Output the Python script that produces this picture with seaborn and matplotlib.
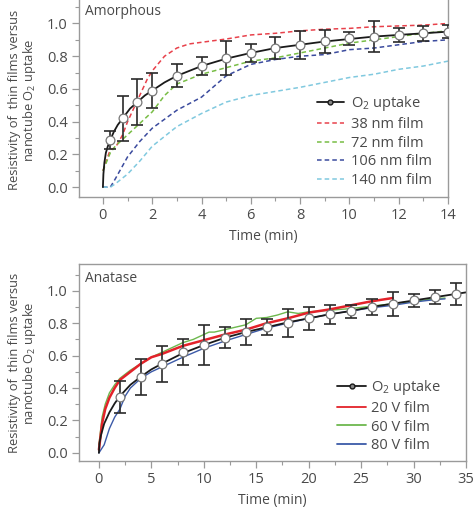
import numpy as np
import pandas as pd
import matplotlib
matplotlib.use("Agg")
import matplotlib.pyplot as plt
import seaborn as sns
from matplotlib.lines import Line2D
from matplotlib.ticker import MultipleLocator

sns.set_theme(style="ticks")
plt.rcParams['font.family'] = ['Open Sans', 'DejaVu Sans']
plt.rcParams['mathtext.fontset'] = 'custom'
plt.rcParams['mathtext.rm'] = 'Open Sans'

# ---------------- Amorphous panel data ----------------
amo_pts_t = [0.3, 0.8, 1.4, 2, 3, 4, 5, 6, 7, 8, 9, 10, 11, 12, 13, 14]
amo_pts_v = [0.29, 0.42, 0.52, 0.59, 0.68, 0.74, 0.79, 0.82, 0.85, 0.87, 0.89, 0.91, 0.92, 0.93, 0.94, 0.95]
amo_pts_e = [0.055, 0.14, 0.14, 0.105, 0.07, 0.055, 0.105, 0.055, 0.065, 0.085, 0.07, 0.04, 0.095, 0.045, 0.045, 0.04]

amo_fit_t = [0, 0.02, 0.06, 0.12, 0.2, 0.3, 0.45, 0.6, 0.8, 1.1, 1.4, 1.7, 2, 2.5, 3, 3.5, 4, 5, 6, 7, 8, 9, 10, 11, 12, 13, 14]
amo_fit_v = [0, 0.08, 0.15, 0.21, 0.25, 0.29, 0.34, 0.38, 0.42, 0.48, 0.52, 0.56, 0.59, 0.64, 0.68, 0.71, 0.74, 0.785, 0.82, 0.85, 0.87, 0.89, 0.905, 0.92, 0.93, 0.94, 0.95]

t38 = [0, 0.3, 0.5, 0.8, 1.0, 1.4, 1.8, 2.0, 2.5, 3.0, 3.5, 4, 5, 6, 7, 8, 9, 10, 11, 12, 13, 14]
v38 = [0.1, 0.23, 0.24, 0.32, 0.4, 0.53, 0.66, 0.71, 0.8, 0.85, 0.875, 0.885, 0.905, 0.93, 0.94, 0.955, 0.965, 0.97, 0.98, 0.985, 0.99, 1.0]

t72 = [0, 0.3, 0.5, 1.0, 1.5, 2, 2.5, 3, 4, 5, 6, 7, 8, 9, 10, 11, 12, 13, 14]
v72 = [0.1, 0.21, 0.25, 0.32, 0.39, 0.46, 0.56, 0.63, 0.69, 0.73, 0.77, 0.79, 0.82, 0.85, 0.88, 0.9, 0.92, 0.94, 0.955]

t106 = [0, 0.3, 0.5, 1.0, 1.5, 2, 3, 4, 5, 6, 7, 8, 9, 10, 11, 12, 13, 14]
v106 = [0, 0.0, 0.05, 0.185, 0.28, 0.36, 0.47, 0.55, 0.68, 0.75, 0.78, 0.8, 0.81, 0.84, 0.85, 0.87, 0.89, 0.9]

t140 = [0, 0.3, 0.5, 1.0, 1.5, 2, 3, 4, 5, 6, 7, 8, 9, 10, 11, 12, 13, 14]
v140 = [0, 0.0, 0.02, 0.08, 0.16, 0.25, 0.37, 0.45, 0.52, 0.56, 0.585, 0.61, 0.64, 0.67, 0.69, 0.72, 0.74, 0.77]

# ---------------- Anatase panel data ----------------
ana_pts_t = [2, 4, 6, 8, 10, 12, 14, 16, 18, 20, 22, 24, 26, 28, 30, 32, 34]
ana_pts_v = [0.345, 0.47, 0.55, 0.62, 0.665, 0.71, 0.745, 0.775, 0.80, 0.83, 0.855, 0.875, 0.90, 0.92, 0.94, 0.96, 0.98]
ana_pts_e = [0.097, 0.11, 0.11, 0.08, 0.125, 0.065, 0.08, 0.05, 0.088, 0.07, 0.058, 0.04, 0.048, 0.075, 0.043, 0.043, 0.065]

ana_fit_t = [0, 0.05, 0.2, 0.5, 1, 1.5, 2, 3, 4, 5, 6, 8, 10, 12, 14, 16, 18, 20, 22, 24, 26, 28, 30, 32, 34, 35]
ana_fit_v = [0, 0.06, 0.11, 0.18, 0.25, 0.305, 0.35, 0.42, 0.47, 0.515, 0.55, 0.615, 0.665, 0.71, 0.745, 0.775, 0.805, 0.83, 0.855, 0.875, 0.9, 0.92, 0.94, 0.96, 0.98, 0.99]

t20 = [0, 0.3, 0.6, 1, 1.5, 2, 3, 4, 5, 6, 8, 10, 12, 14, 16, 18, 20, 22, 24, 26, 28]
v20 = [0.02, 0.18, 0.27, 0.34, 0.4, 0.45, 0.5, 0.55, 0.59, 0.61, 0.66, 0.695, 0.73, 0.76, 0.8, 0.83, 0.865, 0.885, 0.91, 0.935, 0.955]

t60 = [0, 0.3, 0.6, 1, 1.5, 2, 3, 4, 5, 6, 7, 8, 9, 10, 10.5, 11, 12, 13, 14, 15, 16, 17, 18, 19, 20, 22, 24, 26, 28, 30, 32, 33]
v60 = [0.05, 0.22, 0.3, 0.37, 0.42, 0.46, 0.51, 0.55, 0.59, 0.62, 0.65, 0.68, 0.7, 0.73, 0.745, 0.745, 0.76, 0.775, 0.79, 0.83, 0.835, 0.85, 0.87, 0.86, 0.87, 0.88, 0.89, 0.905, 0.92, 0.935, 0.95, 0.955]

t80 = [0, 0.5, 1, 1.5, 2, 2.5, 3, 4, 5, 6, 8, 10, 12, 14, 16, 18, 20, 22, 24, 26, 28, 30, 32, 33]
v80 = [0, 0.05, 0.15, 0.22, 0.27, 0.35, 0.4, 0.46, 0.5, 0.53, 0.59, 0.645, 0.69, 0.73, 0.77, 0.8, 0.83, 0.855, 0.875, 0.895, 0.91, 0.93, 0.945, 0.95]

amo_labels = ["O$_2$ uptake", "38 nm film", "72 nm film", "106 nm film", "140 nm film"]
ana_labels = ["O$_2$ uptake", "20 V film", "60 V film", "80 V film"]
ylabel = "Resistivity of  thin films versus\nnanotube O$_2$ uptake"

TXT = "#4a4a4a"
SPN = "#9a9a9a"
FS = 10.5

fig = plt.figure(figsize=(4.74, 5.14), dpi=100)
ax1 = fig.add_axes([79/474, (514-197)/514, (448-79)/474, 203/514])
ax2 = fig.add_axes([79/474, (514-461)/514, (466-79)/474, 197/514])


def draw_line(ax, t, v, color, lw, dashes=None):
    df = pd.DataFrame({"t": t, "v": v})
    sns.lineplot(data=df, x="t", y="v", ax=ax, color=color, lw=lw,
                 estimator=None, sort=False, legend=False)
    ln = ax.lines[-1]
    if dashes is not None:
        ln.set_dashes(dashes)
    return ln


def draw_points(ax, ft, fv, pt, pv, pe):
    draw_line(ax, ft, fv, "#1a1a1a", 1.3)
    ax.errorbar(pt, pv, yerr=pe, fmt="none", ecolor="#2a2a2a", elinewidth=1.2,
                capsize=4, capthick=1.2, zorder=4)
    sns.scatterplot(x=pt, y=pv, ax=ax, marker="o", s=40, facecolor="white",
                    edgecolor="#777777", linewidth=0.9, zorder=5, legend=False)


# ---- Amorphous ----
c38, c72, c106, c140 = "#e8414b", "#78bd45", "#3b4b9e", "#80c9df"
draw_line(ax1, t38, v38, c38, 1.1, (3, 2))
draw_line(ax1, t72, v72, c72, 1.1, (3, 2))
draw_line(ax1, t106, v106, c106, 1.1, (3, 2))
draw_line(ax1, t140, v140, c140, 1.1, (3, 2))
draw_points(ax1, amo_fit_t, amo_fit_v, amo_pts_t, amo_pts_v, amo_pts_e)
ax1.set_xlim(-0.97, 14)
ax1.set_ylim(-0.06, 1.18)
ax1.xaxis.set_major_locator(MultipleLocator(2))
ax1.xaxis.set_minor_locator(MultipleLocator(1))

# ---- Anatase ----
c20, c60, c80 = "#e3222a", "#6db84e", "#3c5aa8"
draw_line(ax2, t60, v60, c60, 1.0)
draw_line(ax2, t20, v20, c20, 1.8)
draw_line(ax2, t80, v80, c80, 1.0)
draw_points(ax2, ana_fit_t, ana_fit_v, ana_pts_t, ana_pts_v, ana_pts_e)
ax2.set_xlim(-1.9, 35)
ax2.set_ylim(-0.05, 1.165)
ax2.xaxis.set_major_locator(MultipleLocator(5))
ax2.xaxis.set_minor_locator(MultipleLocator(2.5))

for ax, title, tx in [(ax1, "Amorphous", -0.73), (ax2, "Anatase", -1.33)]:
    ax.yaxis.set_major_locator(MultipleLocator(0.2))
    ax.yaxis.set_minor_locator(MultipleLocator(0.1))
    ax.yaxis.set_major_formatter(matplotlib.ticker.FormatStrFormatter("%.1f"))
    for s in ax.spines.values():
        s.set_color(SPN)
        s.set_linewidth(1.0)
    ax.tick_params(which="major", direction="out", length=5, width=0.9, color=SPN,
                   labelcolor=TXT, labelsize=FS, pad=3)
    ax.tick_params(which="minor", direction="out", length=3, width=0.8, color=SPN)
    ax.set_xlabel("Time (min)", color=TXT, fontsize=10, labelpad=4)
    ax.set_ylabel(ylabel, color=TXT, fontsize=9.3, linespacing=1.0)
    ax.text(tx, 1.075, title, ha="left", va="center", color=TXT, fontsize=10)

ax1.yaxis.set_label_coords(-41/369, (197-100)/203)
ax2.yaxis.set_label_coords(-41/387, (461-363)/197)

# legends
h1 = [Line2D([], [], color="#1a1a1a", lw=1.3, marker="o", ms=3.5,
             mfc="#888888", mec="#1a1a1a")]
for c in [c38, c72, c106, c140]:
    h1.append(Line2D([], [], color=c, lw=1.1, dashes=(3, 2)))
leg1 = ax1.legend(h1, amo_labels, loc="upper left", bbox_to_anchor=(0.645, 0.505),
                  frameon=False, fontsize=FS, handlelength=1.85, handletextpad=0.45,
                  labelspacing=0.25, borderaxespad=0, borderpad=0)
for t in leg1.get_texts():
    t.set_color(TXT)

h2 = [Line2D([], [], color="#1a1a1a", lw=1.3, marker="o", ms=3.5,
             mfc="#888888", mec="#1a1a1a"),
      Line2D([], [], color=c20, lw=1.3),
      Line2D([], [], color=c60, lw=1.3),
      Line2D([], [], color=c80, lw=1.3)]
leg2 = ax2.legend(h2, ana_labels, loc="upper left", bbox_to_anchor=(0.667, 0.42),
                  frameon=False, fontsize=FS, handlelength=2.0, handletextpad=0.35,
                  labelspacing=0.25, borderaxespad=0, borderpad=0)
for t in leg2.get_texts():
    t.set_color(TXT)

fig.savefig("out.png", dpi=100)
